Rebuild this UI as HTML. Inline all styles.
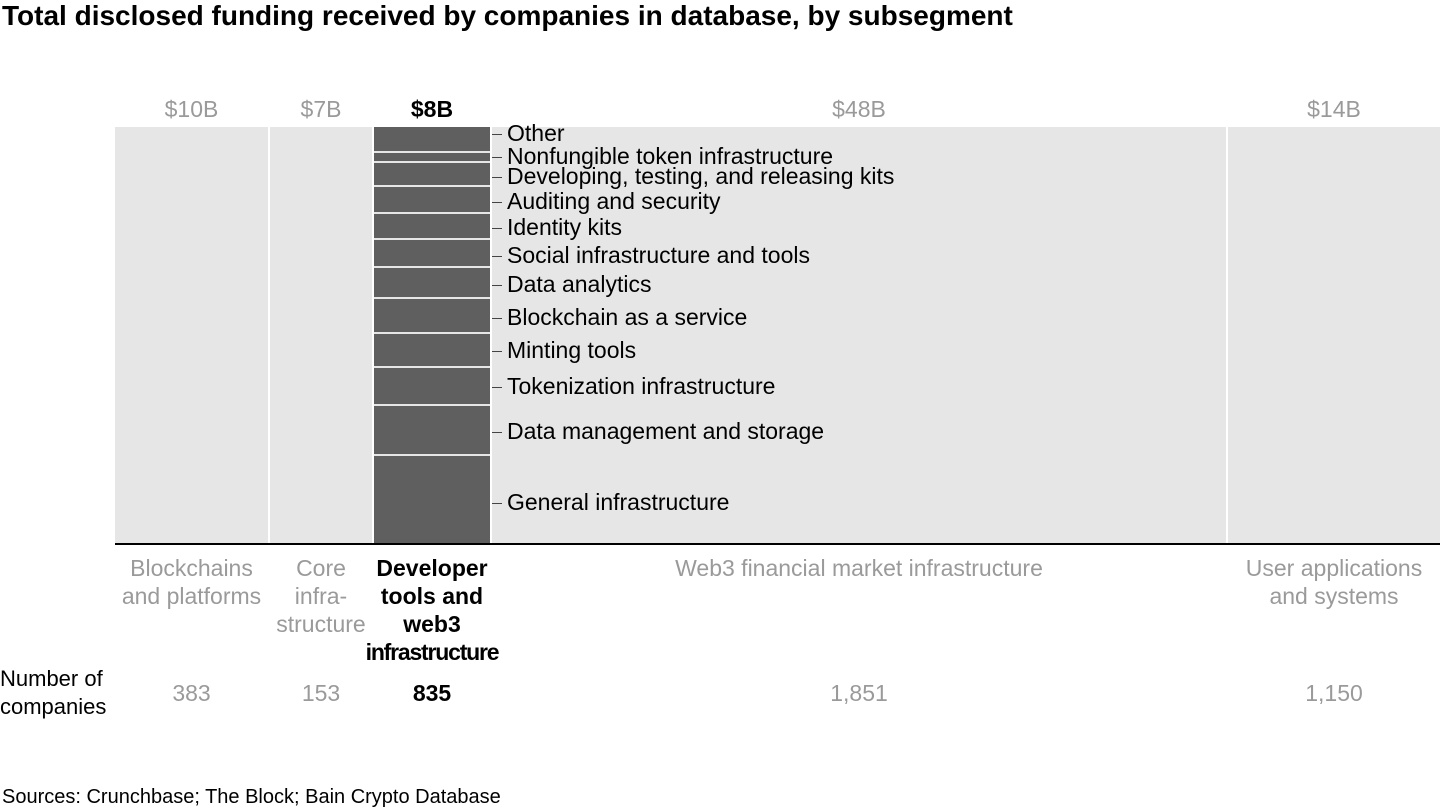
<!DOCTYPE html>
<html><head><style>
body{margin:0;width:1440px;height:810px;background:#fff;font-family:"Liberation Sans",sans-serif;position:relative;overflow:hidden}
.a{position:absolute}
.g{color:#9a9a9a;font-size:23px;text-align:center;line-height:28px;white-space:nowrap}
.seg{position:absolute;left:374px;width:116px;background:#5f5f5f}
.lab{position:absolute;left:492px;font-size:23px;color:#000;line-height:22px;white-space:nowrap}
.lab:before{content:"";display:inline-block;width:10px;height:1px;background:#444;vertical-align:middle;margin-right:5px}
</style></head><body>
<div class="a" style="left:2px;top:0px;font-size:28px;font-weight:bold;white-space:nowrap;letter-spacing:0px">Total disclosed funding received by companies in database, by subsegment</div>
<div class="a" style="left:115px;top:127px;width:1325px;height:417px;background:#e6e6e6"></div>
<div class="a" style="left:268px;top:127px;width:2px;height:417px;background:#fff"></div>
<div class="a" style="left:372px;top:127px;width:2px;height:417px;background:#fff"></div>
<div class="a" style="left:490px;top:127px;width:2px;height:417px;background:#fff"></div>
<div class="a" style="left:1226px;top:127px;width:2px;height:417px;background:#fff"></div>
<div class="seg" style="top:127px;height:24px"></div>
<div class="seg" style="top:153px;height:8px"></div>
<div class="seg" style="top:163px;height:22px"></div>
<div class="seg" style="top:187px;height:25px"></div>
<div class="seg" style="top:214px;height:24px"></div>
<div class="seg" style="top:240px;height:26px"></div>
<div class="seg" style="top:268px;height:29px"></div>
<div class="seg" style="top:299px;height:33px"></div>
<div class="seg" style="top:334px;height:32px"></div>
<div class="seg" style="top:368px;height:36px"></div>
<div class="seg" style="top:406px;height:48px"></div>
<div class="seg" style="top:456px;height:88px"></div>
<div class="a" style="left:115px;top:543px;width:1325px;height:2px;background:#000"></div>
<div class="lab" style="top:122px">Other</div>
<div class="lab" style="top:145px">Nonfungible token infrastructure</div>
<div class="lab" style="top:165px">Developing, testing, and releasing kits</div>
<div class="lab" style="top:190px">Auditing and security</div>
<div class="lab" style="top:216px">Identity kits</div>
<div class="lab" style="top:244px">Social infrastructure and tools</div>
<div class="lab" style="top:273px">Data analytics</div>
<div class="lab" style="top:306px">Blockchain as a service</div>
<div class="lab" style="top:339px">Minting tools</div>
<div class="lab" style="top:375px">Tokenization infrastructure</div>
<div class="lab" style="top:420px">Data management and storage</div>
<div class="lab" style="top:491px">General infrastructure</div>
<div class="a g" style="left:115px;width:153px;top:95px">$10B</div>
<div class="a g" style="left:270px;width:102px;top:95px">$7B</div>
<div class="a g" style="left:374px;width:116px;top:95px;color:#000;font-weight:bold">$8B</div>
<div class="a g" style="left:492px;width:734px;top:95px">$48B</div>
<div class="a g" style="left:1228px;width:212px;top:95px">$14B</div>
<div class="a g" style="left:115px;width:153px;top:554px">Blockchains<br>and platforms</div>
<div class="a g" style="left:270px;width:102px;top:554px">Core<br>infra-<br>structure</div>
<div class="a g" style="left:364px;width:136px;top:554px;color:#000;font-weight:bold">Developer<br>tools and<br>web3<br><span style="letter-spacing:-1.2px">infrastructure</span></div>
<div class="a g" style="left:492px;width:734px;top:554px">Web3 financial market infrastructure</div>
<div class="a g" style="left:1228px;width:212px;top:554px">User applications<br>and systems</div>
<div class="a" style="left:0;top:665px;font-size:22px;line-height:28px">Number of<br>companies</div>
<div class="a g" style="left:115px;width:153px;top:679px">383</div>
<div class="a g" style="left:270px;width:102px;top:679px">153</div>
<div class="a g" style="left:374px;width:116px;top:679px;color:#000;font-weight:bold">835</div>
<div class="a g" style="left:492px;width:734px;top:679px">1,851</div>
<div class="a g" style="left:1228px;width:212px;top:679px">1,150</div>
<div class="a" style="left:2px;top:786px;font-size:20px;white-space:nowrap">Sources: Crunchbase; The Block; Bain Crypto Database</div>
</body></html>
